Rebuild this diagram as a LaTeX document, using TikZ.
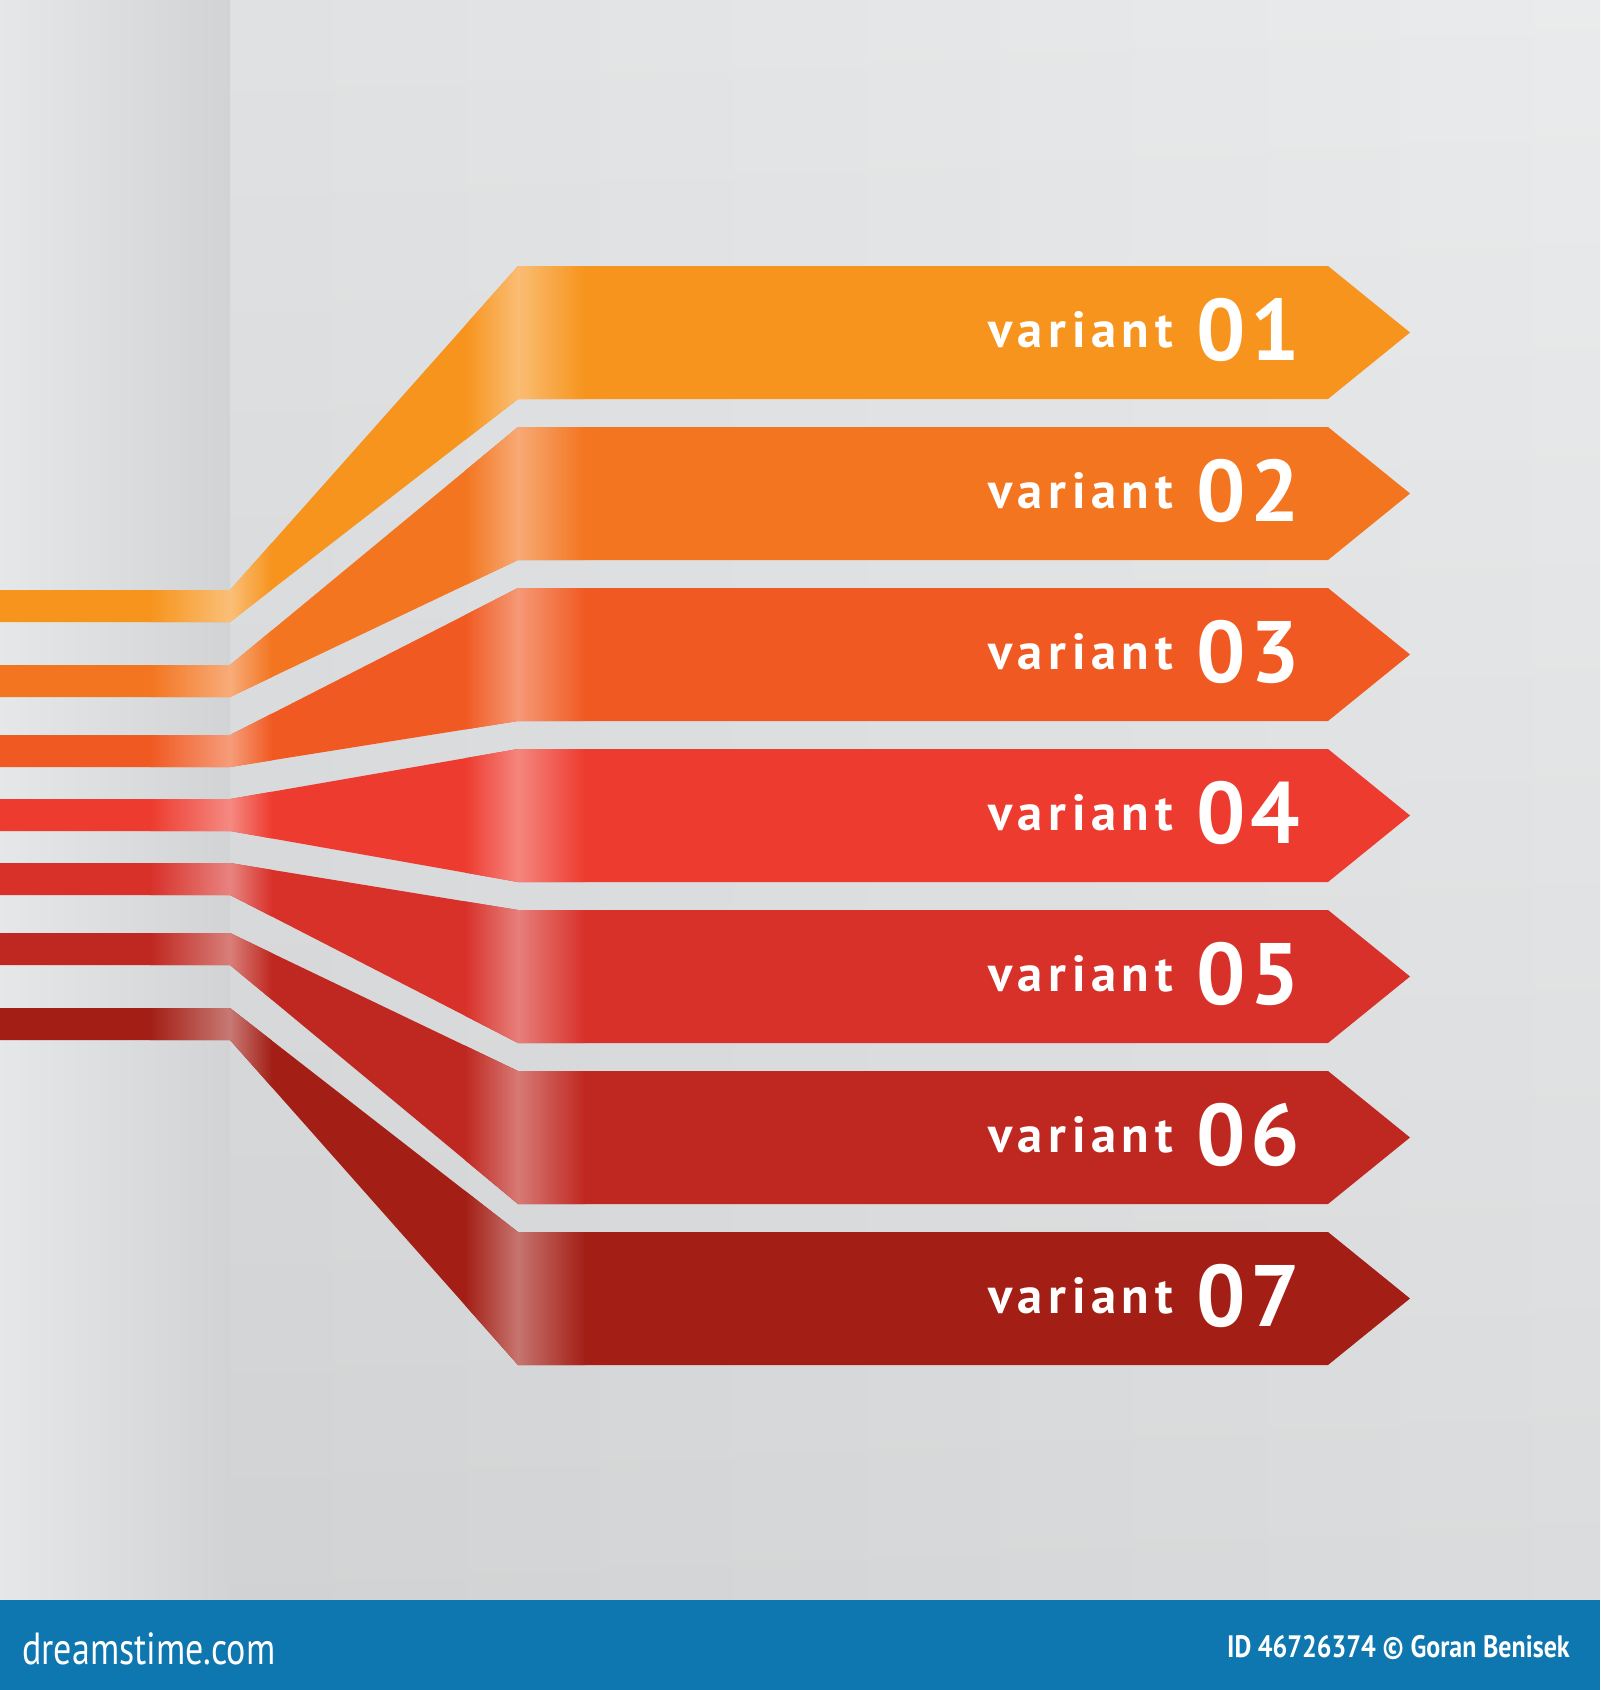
\documentclass[tikz,border=0pt]{standalone}
\usepackage{fontspec}
\setmainfont{PT Sans}
\newfontfamily\vfont[LetterSpace=11]{PT Sans}
\newfontfamily\nfont[LetterSpace=5]{PT Sans}
\definecolor{c1}{HTML}{F7941D}
\definecolor{c2}{HTML}{F37520}
\definecolor{c3}{HTML}{F05A22}
\definecolor{c4}{HTML}{EE3B2F}
\definecolor{c5}{HTML}{D8312A}
\definecolor{c6}{HTML}{BF2820}
\definecolor{c7}{HTML}{A31F16}
\definecolor{bgA}{HTML}{DDDEE0}
\definecolor{bgB}{HTML}{E9EAEB}
\definecolor{bandA}{HTML}{E6E7E8}
\definecolor{bandB}{HTML}{D2D3D5}
\definecolor{barblue}{HTML}{0F77B0}
\tikzset{
  vtext/.style={anchor=base west, inner sep=0pt, text=white,
    font=\vfont\bfseries\fontsize{36}{36}\selectfont},
  ntext/.style={anchor=base west, inner sep=0pt, text=white,
    font=\nfont\bfseries\fontsize{62}{62}\selectfont},
  bartext/.style={inner sep=0pt, text=white}
}
\begin{document}
\begin{tikzpicture}[x=0.025cm,y=-0.025cm]
\useasboundingbox (0,0) rectangle (1600,1690);
% background
\shade[left color=bgA, right color=bgB] (0,0) rectangle (1600,1600);
\shade[top color=white, bottom color=black, opacity=0.06] (0,0) rectangle (1600,1600);
\shade[left color=bandA, right color=bandB] (0,0) rectangle (230,1600);
% ribbons
\foreach \i/\c/\o in {1/c1/-209, 2/c2/-134, 3/c3/-64, 4/c4/0, 5/c5/64, 6/c6/134, 7/c7/209} {
  \pgfmathsetmacro\bt{266+161*(\i-1)}
  \pgfmathsetmacro\bb{\bt+133}
  \pgfmathsetmacro\bm{\bt+66.5}
  \pgfmathsetmacro\st{815+\o-16}
  \pgfmathsetmacro\sb{815+\o+16}
  \begin{scope}
    \clip (0,\st) -- (230,\st) -- (518,\bt) -- (1328,\bt) -- (1410,\bm)
      -- (1328,\bb) -- (518,\bb) -- (230,\sb) -- (0,\sb) -- cycle;
    \fill[\c] (0,200) rectangle (1420,1400);
    \shade[left color=\c, right color=\c!60!white] (150,200) rectangle (230,1400);
    \shade[left color=\c!60!white, right color=\c] (230,200) rectangle (272,1400);
    \shade[left color=\c, right color=\c!62!white] (465,200) rectangle (518,1400);
    \shade[left color=\c!62!white, right color=\c] (518,200) rectangle (585,1400);
  \end{scope}
  \node[vtext] (v\i) at (988,\bt+81) {variant};
  \node[ntext] (n\i) at (1196,\bt+94) {0\i};
}
% bottom bar
\fill[barblue] (0,1600) rectangle (1600,1690);
\node[bartext, anchor=base west] (logo) at (22,1664)
  {\fontsize{32}{32}\selectfont\scalebox{0.8}[1]{dreamstime.com}};
\node[bartext, anchor=base east] (credit) at (1570,1657)
  {\bfseries\fontsize{22}{22}\selectfont\scalebox{0.84}[1]{ID 46726374 © Goran Benisek}};
\end{tikzpicture}
\end{document}
